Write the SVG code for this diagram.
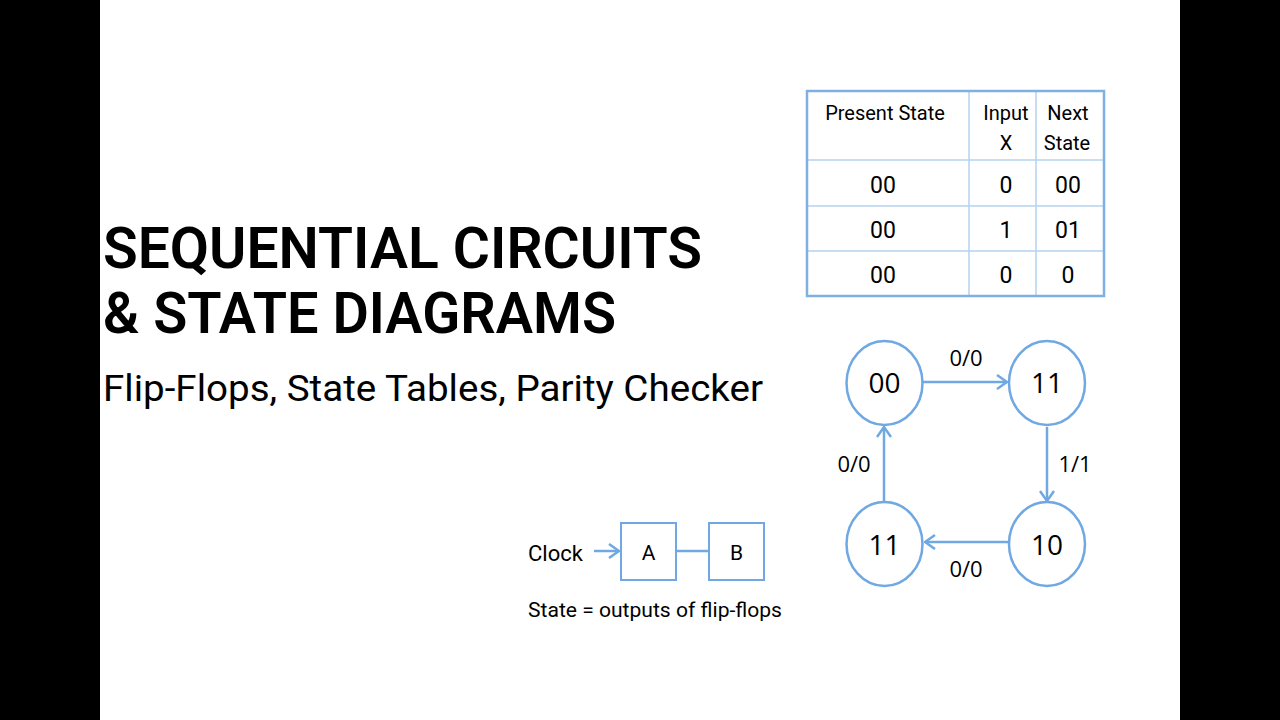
<svg xmlns="http://www.w3.org/2000/svg" width="1280" height="720" viewBox="0 0 1280 720">
<defs>
<style>
.t{font-family:"Roboto","Liberation Sans",sans-serif;fill:#000}
.s{font-family:"Open Sans","Noto Sans",sans-serif;fill:#000}
.st{fill:#fff;stroke:#6fa8e2;stroke-width:2.5}
.ln{fill:none;stroke:#6fa8e2;stroke-width:2.5}
.box{fill:#fff;stroke:#6fa8e2;stroke-width:2}
.grid{stroke:#b4d2f0;stroke-width:1.5}
</style>
<marker id="arr" viewBox="0 0 12 16" refX="11" refY="8" markerWidth="12" markerHeight="16" markerUnits="userSpaceOnUse" orient="auto">
<path d="M1,1 L11,8 L1,15" fill="none" stroke="#6fa8e2" stroke-width="2.5"/>
</marker>
</defs>
<rect x="0" y="0" width="1280" height="720" fill="#000"/>
<rect x="100" y="0" width="1080" height="720" fill="#fff"/>

<g id="title">
<text class="t" x="103" y="268" font-size="58" font-weight="600" textLength="599" lengthAdjust="spacingAndGlyphs">SEQUENTIAL CIRCUITS</text>
<text class="t" x="103" y="333" font-size="58" font-weight="600" textLength="513" lengthAdjust="spacingAndGlyphs">&amp; STATE DIAGRAMS</text>
<text class="t" x="103" y="401" font-size="37" textLength="660" lengthAdjust="spacingAndGlyphs">Flip-Flops, State Tables, Parity Checker</text>
</g>

<g id="state-table">
<rect x="807" y="91" width="297" height="205" fill="#fff"/>
<line class="grid" x1="969" y1="91" x2="969" y2="296"/>
<line class="grid" x1="1036" y1="91" x2="1036" y2="296"/>
<line class="grid" x1="807" y1="160" x2="1104" y2="160"/>
<line class="grid" x1="807" y1="206" x2="1104" y2="206"/>
<line class="grid" x1="807" y1="251" x2="1104" y2="251"/>
<rect x="807" y="91" width="297" height="205" fill="none" stroke="#7fb0e3" stroke-width="2.5"/>
<g class="t" font-size="20" text-anchor="middle">
<text x="885" y="120">Present State</text>
<text x="1006" y="120">Input</text>
<text x="1006" y="150">X</text>
<text x="1068" y="120">Next</text>
<text x="1067" y="150">State</text>
</g>
<g class="t" font-size="23" text-anchor="middle">
<text x="883" y="193">00</text><text x="1006" y="193">0</text><text x="1068" y="193">00</text>
<text x="883" y="238">00</text><text x="1006" y="238">1</text><text x="1068" y="238">01</text>
<text x="883" y="283">00</text><text x="1006" y="283">0</text><text x="1068" y="283">0</text>
</g>
</g>

<g id="connectors">
<line class="ln" x1="923" y1="382" x2="1007" y2="382" marker-end="url(#arr)"/>
<line class="ln" x1="1047" y1="427" x2="1047" y2="501" marker-end="url(#arr)"/>
<line class="ln" x1="1008" y1="542" x2="925" y2="542" marker-end="url(#arr)"/>
<line class="ln" x1="884" y1="502" x2="884" y2="427" marker-end="url(#arr)"/>
<line class="ln" x1="594" y1="551" x2="619" y2="551" marker-end="url(#arr)"/>
<line class="ln" x1="676" y1="551" x2="709" y2="551"/>
<g class="s" font-size="22" text-anchor="middle">
<text x="966" y="366">0/0</text>
<text x="1075" y="472">1/1</text>
<text x="966" y="577">0/0</text>
<text x="854" y="472">0/0</text>
</g>
</g>

<g id="node-00">
<ellipse class="st" cx="884.5" cy="383" rx="38" ry="42"/>
<text class="s" x="884.5" y="393" font-size="28" text-anchor="middle">00</text>
</g>
<g id="node-11-top">
<ellipse class="st" cx="1047" cy="383" rx="38" ry="42"/>
<text class="s" x="1047" y="393" font-size="28" text-anchor="middle">11</text>
</g>
<g id="node-10">
<ellipse class="st" cx="1047" cy="544" rx="38" ry="42"/>
<text class="s" x="1047" y="555" font-size="28" text-anchor="middle">10</text>
</g>
<g id="node-11-bottom">
<ellipse class="st" cx="884.5" cy="544" rx="38" ry="42"/>
<text class="s" x="884.5" y="555" font-size="28" text-anchor="middle">11</text>
</g>

<g id="clock">
<text class="t" x="528" y="561" font-size="22">Clock</text>
</g>
<g id="ff-A">
<rect class="box" x="621" y="523" width="55" height="57"/>
<text class="t" x="648.5" y="560" font-size="21" text-anchor="middle">A</text>
</g>
<g id="ff-B">
<rect class="box" x="709" y="523" width="55" height="57"/>
<text class="t" x="736.5" y="560" font-size="21" text-anchor="middle">B</text>
</g>
<g id="caption">
<text class="t" x="528" y="617" font-size="20" textLength="254" lengthAdjust="spacingAndGlyphs">State = outputs of flip-flops</text>
</g>
</svg>
